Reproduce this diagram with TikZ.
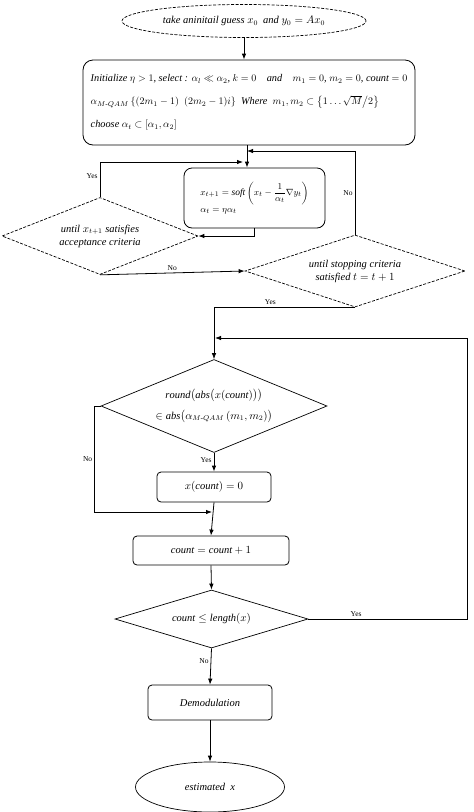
\documentclass[tikz,border=0pt]{standalone}
\usepackage{amsmath,amssymb}
\usepackage{fontspec}
\setmainfont{Liberation Serif}
\usetikzlibrary{shapes.geometric, arrows.meta, positioning}

\begin{document}
\begin{tikzpicture}[x=1pt, y=-1pt,
    every node/.style={align=center, inner sep=0pt, font=\fontsize{10.5}{13}\selectfont\itshape},
    arrow/.style={-{Latex[length=6pt,width=4.5pt]}, line width=0.8pt},
    box/.style={draw, line width=0.8pt, rounded corners=4pt},
    test/.style={draw, diamond, line width=0.7pt, inner sep=0pt, aspect=2.5},
    oval/.style={draw, ellipse, line width=0.7pt, inner sep=0pt},
    dashy/.style={dash pattern=on 3pt off 1.5pt},
    lbl/.style={font=\fontsize{7.5}{8}\selectfont\upshape, inner sep=2pt}
    ]
    \useasboundingbox (0,0) rectangle (474,812);

    % boxes and tests
    \node (start) [oval, dashy, minimum width=244, minimum height=33] at (244,21)
        {take aninitail guess $x_0$\ \ and $y_0 = Ax_0$};
    \node (init) [box, rounded corners=10pt, minimum width=332, minimum height=85,
        align=left, font=\fontsize{10.3}{23}\selectfont\itshape] at (249,102.5)
        {Initialize $\eta > 1$, select : $\alpha_l \ll \alpha_2$, $k=0$\quad and\quad $m_1=0$, $m_2=0$, $\mathit{count}=0$\\
         $\alpha_{M\text{-}QAM}\,\{(2m_1-1)\ \ (2m_2-1)i\}$\ \ Where\ \ $m_1, m_2 \subset \bigl\{1\ldots \sqrt{M}\big/2\bigr\}$\\
         choose $\alpha_t \subset [\alpha_1, \alpha_2]$};
    \node (update) [box, rounded corners=8pt, minimum width=141, minimum height=60,
        align=left, font=\fontsize{9.5}{17}\selectfont\itshape] at (254.5,198)
        {$x_{t+1} = \mathit{soft}\left(x_t - \dfrac{1}{\alpha_t}\nabla y_t\right)$\\
         $\alpha_t = \eta\alpha_t$};
    \node (accept) [test, dashy, minimum width=196, minimum height=77] at (100,236)
        {until $x_{t+1}$ satisfies\\ acceptance criteria};
    \node (stop) [test, dashy, minimum width=220, minimum height=72] at (355,271)
        {until stopping criteria\\ satisfied $t = t+1$};
    \node (cond) [test, minimum width=226, minimum height=93,
        font=\fontsize{10.5}{21}\selectfont\itshape] at (214,406)
        {$\mathit{round}\bigl(\mathit{abs}\bigl(x(\mathit{count})\bigr)\bigr)$\\
         $\in \mathit{abs}\bigl(\alpha_{M\text{-}QAM}\,(m_1,m_2)\bigr)$};
    \node (zero) [box, minimum width=114, minimum height=30] at (214,487)
        {$x(\mathit{count}) = 0$};
    \node (incr) [box, minimum width=156, minimum height=29] at (211,550.5)
        {$\mathit{count} = \mathit{count} + 1$};
    \node (check) [test, minimum width=193, minimum height=58] at (211.5,619)
        {$\mathit{count} \leq \mathit{length}(x)$};
    \node (demod) [box, minimum width=124, minimum height=35] at (210,702.5)
        {Demodulation};
    \node (finish) [oval, minimum width=149, minimum height=50] at (210,787)
        {estimated\ \ x};

    % junctions on the lines
    \coordinate (join) at (247,151);
    \coordinate (yesin) at (243,162);
    \coordinate (merge) at (212,512);
    \coordinate (loopin) at (215,338);

    % connectors
    \draw [arrow] (start.south) -- (start.south |- init.north);
    \draw [arrow] (init.south -| join) -- (join |- update.north);
    \draw [arrow] (stop.north) |- node [lbl, pos=0.25, left] {No} (join);
    \draw [arrow] (accept.north) |- node [lbl, pos=0.3, left] {Yes} (yesin);
    \draw [arrow] (update.south) |- (accept.east);
    \draw [arrow] (accept.south) -- node [lbl, above] {No} (stop.west);
    \draw [arrow] (stop.south) -| node [lbl, pos=0.3, above] {Yes} (cond.north);
    \draw [arrow] (cond.south) -- node [lbl, pos=0.4, left] {Yes} (zero.north);
    \draw [arrow] (cond.west) -- ++(-6,0) |- node [lbl, pos=0.25, left] {No} (merge);
    \draw [arrow] (zero.south) -- (incr.north);
    \draw [arrow] (incr.south) -- (check.north);
    \draw [arrow] (check.east) -- ++(159,0) node [lbl, pos=0.3, above] {Yes} |- (loopin);
    \draw [arrow] (check.south) -- node [lbl, pos=0.35, left] {No} (demod.north);
    \draw [arrow] (demod.south) -- (finish.north);

\end{tikzpicture}
\end{document}
